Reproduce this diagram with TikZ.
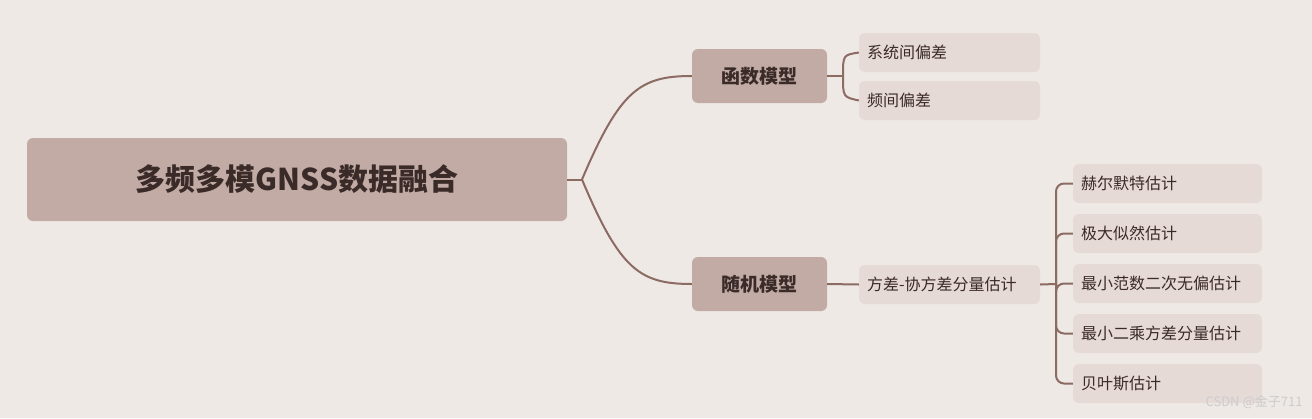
\documentclass[tikz,border=0pt]{standalone}
\usepackage{fontspec}
\setmainfont{Noto Sans CJK SC}
\definecolor{bg}{HTML}{EFE9E6}
\definecolor{lv}{HTML}{C1ABA4}
\definecolor{lf}{HTML}{E6DAD7}
\definecolor{ln}{HTML}{8B6B62}
\definecolor{tx}{HTML}{3A2A28}
\begin{document}
\begin{tikzpicture}[x=1pt,y=-1pt,
  rootbox/.style={fill=lv,rounded corners=6pt,minimum width=540pt,minimum height=83pt,font=\bfseries\fontsize{30}{32}\selectfont,text=tx,inner sep=0},
  midbox/.style={fill=lv,rounded corners=6pt,minimum width=135pt,minimum height=54pt,font=\bfseries\fontsize{19}{21}\selectfont,text=tx,inner sep=0},
  leafbox/.style={fill=lf,rounded corners=6pt,minimum height=39pt,font=\fontsize{16}{18}\selectfont,text=tx,inner sep=0,text width=#1-16pt,minimum width=#1,align=left},
  conn/.style={draw=ln,line width=2pt}]
\fill[bg] (0,0) rectangle (1312,418);
\useasboundingbox (0,0) rectangle (1312,418);
\node[rootbox] (root) at (297,179.5) {多频多模GNSS数据融合};
\node[midbox] (f) at (759.5,76) {函数模型};
\node[midbox] (r) at (759.5,284) {随机模型};
\node[leafbox=181pt] (f1) at (949.5,52.5) {系统间偏差};
\node[leafbox=181pt] (f2) at (949.5,100.5) {频间偏差};
\node[leafbox=181pt] (r0) at (949.5,284.5) {方差-协方差分量估计};
\foreach \i/\t/\y in {1/赫尔默特估计/183.5,2/极大似然估计/233.5,3/最小范数二次无偏估计/283.5,4/最小二乘方差分量估计/333.5,5/贝叶斯估计/383.5}
  \node[leafbox=189pt] (s\i) at (1167.5,\y) {\t};
\coordinate (rj) at (582,179.5);
\draw[conn] (root.east) -- (rj);
\draw[conn] (rj) .. controls (620,90) and (640,76) .. (f.west);
\draw[conn] (rj) .. controls (620,270) and (640,284) .. (r.west);
\coordinate (fj) at (843,76);
\draw[conn] (f.east) -- (fj);
\draw[conn] (fj) .. controls (843,55) .. (f1.west);
\draw[conn] (fj) .. controls (843,97) .. (f2.west);
\draw[conn] (r.east) -- (r0.west);
\coordinate (rk) at (1056,284);
\draw[conn] (r0.east) -- (rk);
\foreach \i in {1,...,5}
  \draw[conn,rounded corners=8pt] (rk) |- (s\i.west);
\node[font=\fontsize{13}{14}\selectfont,text=white!60!gray,anchor=east] (wm) at (1306,402) {CSDN @金子711};
\end{tikzpicture}
\end{document}
